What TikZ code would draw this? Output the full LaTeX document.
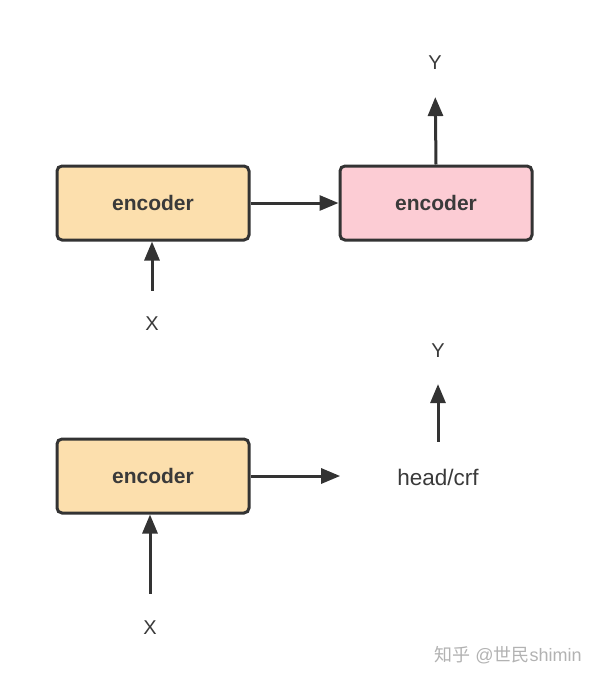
\documentclass[tikz,border=0pt]{standalone}
\usepackage{fontspec}
\setmainfont{Liberation Sans}
\newfontfamily\cjk{Noto Sans CJK SC}
\usetikzlibrary{arrows.meta}
\definecolor{lineC}{HTML}{333333}
\definecolor{orangeF}{HTML}{FCDFAD}
\definecolor{pinkF}{HTML}{FCCCD4}
\definecolor{txtC}{HTML}{3A3A3A}
\tikzset{
  encbox/.style={draw=lineC, line width=3pt, rounded corners=5pt, minimum width=192pt, minimum height=74pt, text=txtC, font=\fontsize{21}{24}\selectfont\bfseries},
  arr/.style={draw=lineC, line width=3pt, -{Triangle[length=19pt,width=15pt]}},
  lbl/.style={inner sep=0pt, text=txtC, font=\fontsize{20}{22}\selectfont},
  plain/.style={inner sep=0pt, text=txtC, font=\fontsize{22.5}{25}\selectfont}
}
\begin{document}
\begin{tikzpicture}[x=1pt,y=-1pt]
\useasboundingbox (0,0) rectangle (600,680);
% top row
\node[encbox, fill=orangeF] (e1) at (153,203) {encoder};
\node[encbox, fill=pinkF] (e2) at (436,203) {encoder};
\node[lbl] (x1) at (152,324) {X};
\node[lbl] (y1) at (435,63) {Y};
\draw[arr] (e1.east) -- (e2.west);
\draw[arr, shorten <=26pt] (x1.north) -- (x1.north |- e1.south);
\draw[arr, shorten >=27pt] (e2.north) -- (y1.south);
% bottom row
\node[encbox, fill=orangeF] (e3) at (153,476) {encoder};
\node[plain] (h) at (438,477) {head/crf};
\node[lbl] (x2) at (150,628) {X};
\node[lbl] (y2) at (438,351) {Y};
\draw[arr, shorten >=57pt] (e3.east) -- (e3.east -| h.west);
\draw[arr, shorten <=27pt] (x2.north) -- (x2.north |- e3.south);
\draw[arr, shorten <=27pt, shorten >=26pt] (h.north) -- (y2.south);
% watermark
\node[inner sep=0pt, text=black!30, font=\fontsize{18}{20}\selectfont] (wm) at (508,655) {{\cjk 知乎} @{\cjk 世民}shimin};
\end{tikzpicture}
\end{document}
